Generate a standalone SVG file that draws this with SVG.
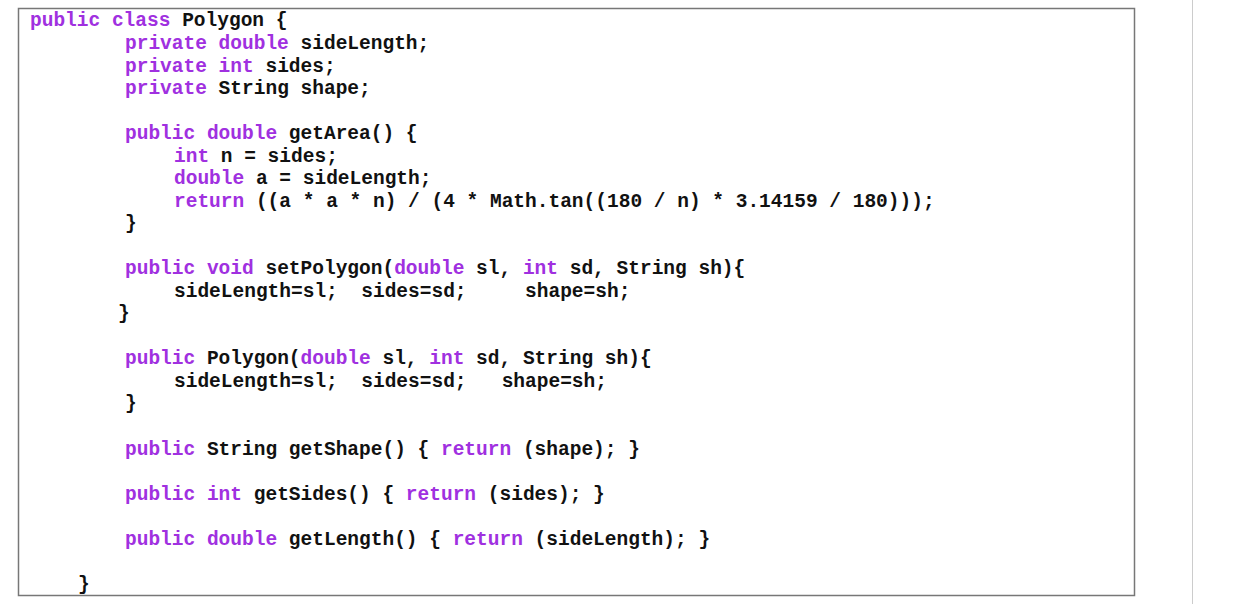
<svg xmlns="http://www.w3.org/2000/svg" width="1248" height="604" viewBox="0 0 1248 604">
<style>
text{font-family:"Liberation Mono","Courier New",monospace;font-weight:bold;font-size:19.5px;fill:#111;white-space:pre}
.k{fill:#a030e0}
</style>
<rect width="1248" height="604" fill="#fff"/>
<rect x="18.5" y="8.5" width="1116" height="587" fill="#fff" stroke="#777" stroke-width="1.5"/>
<line x1="1192.5" y1="0" x2="1192.5" y2="604" stroke="#ccc"/>
<g id="code">
<text x="30" y="26" xml:space="preserve"><tspan class="k">public class</tspan> Polygon {</text>
<text x="125" y="49" xml:space="preserve"><tspan class="k">private double</tspan> sideLength;</text>
<text x="125" y="72" xml:space="preserve"><tspan class="k">private int</tspan> sides;</text>
<text x="125" y="94" xml:space="preserve"><tspan class="k">private</tspan> String shape;</text>
<text x="125" y="139" xml:space="preserve"><tspan class="k">public double</tspan> getArea() {</text>
<text x="174" y="162" xml:space="preserve"><tspan class="k">int</tspan> n = sides;</text>
<text x="174" y="184" xml:space="preserve"><tspan class="k">double</tspan> a = sideLength;</text>
<text x="174" y="207" xml:space="preserve"><tspan class="k">return</tspan> ((a * a * n) / (4 * Math.tan((180 / n) * 3.14159 / 180)));</text>
<text x="125" y="229" xml:space="preserve">}</text>
<text x="125" y="274" xml:space="preserve"><tspan class="k">public void</tspan> setPolygon(<tspan class="k">double</tspan> sl, <tspan class="k">int</tspan> sd, String sh){</text>
<text x="174" y="297" xml:space="preserve">sideLength=sl;  sides=sd;     shape=sh;</text>
<text x="118" y="319" xml:space="preserve">}</text>
<text x="125" y="364" xml:space="preserve"><tspan class="k">public</tspan> Polygon(<tspan class="k">double</tspan> sl, <tspan class="k">int</tspan> sd, String sh){</text>
<text x="174" y="387" xml:space="preserve">sideLength=sl;  sides=sd;   shape=sh;</text>
<text x="125" y="409" xml:space="preserve">}</text>
<text x="125" y="455" xml:space="preserve"><tspan class="k">public</tspan> String getShape() { <tspan class="k">return</tspan> (shape); }</text>
<text x="125" y="500" xml:space="preserve"><tspan class="k">public int</tspan> getSides() { <tspan class="k">return</tspan> (sides); }</text>
<text x="125" y="545" xml:space="preserve"><tspan class="k">public double</tspan> getLength() { <tspan class="k">return</tspan> (sideLength); }</text>
<text x="78" y="590" xml:space="preserve">}</text>
</g>
</svg>
